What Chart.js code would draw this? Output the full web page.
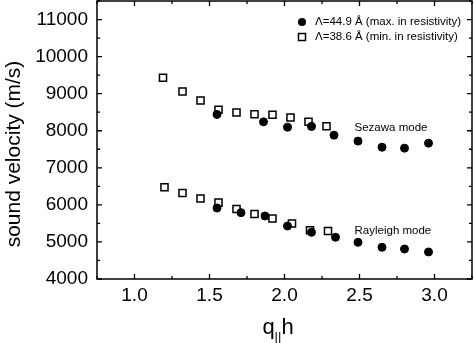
<!DOCTYPE html>
<html>
<head>
<meta charset="utf-8">
<script src="https://cdn.jsdelivr.net/npm/chart.js@4"></script>
<style>
  html, body { margin: 0; padding: 0; background: #fff; }
  canvas { display: block; }
</style>
</head>
<body>
<canvas id="chartVelocidad" width="474" height="343"></canvas>
<script>
// Λ=44.9 Å (max. in resistivity), filled circles
const maxSezawaQ = [1.55, 1.86, 2.02, 2.18, 2.33, 2.49, 2.65, 2.80, 2.96];
const maxSezawaV = [8440, 8240, 8095, 8115, 7880, 7720, 7555, 7530, 7665];
const maxRayleighQ = [1.55, 1.71, 1.87, 2.02, 2.18, 2.34, 2.49, 2.65, 2.80, 2.96];
const maxRayleighV = [5915, 5790, 5700, 5430, 5260, 5125, 4990, 4855, 4810, 4730];

// Λ=38.6 Å (min. in resistivity), open squares
const minSezawaQ = [1.19, 1.32, 1.44, 1.56, 1.68, 1.80, 1.92, 2.04, 2.16, 2.28];
const minSezawaV = [9430, 9060, 8815, 8565, 8490, 8445, 8430, 8355, 8240, 8120];
const minRayleighQ = [1.20, 1.32, 1.44, 1.56, 1.68, 1.80, 1.92, 2.05, 2.17, 2.29];
const minRayleighV = [6475, 6320, 6170, 6060, 5890, 5755, 5630, 5495, 5315, 5295];

const xTicks = [1.0, 1.5, 2.0, 2.5, 3.0];
const yTicks = [4000, 5000, 6000, 7000, 8000, 9000, 10000, 11000];
const serieLabels = ["\u039B=44.9 \u00C5 (max. in resistivity)", "\u039B=38.6 \u00C5 (min. in resistivity)"];
const modos = [
  { text: "Sezawa mode", q: 2.467, v: 8000 },
  { text: "Rayleigh mode", q: 2.467, v: 5215 }
];

const puntos = (qs, vs) => qs.map((q, i) => ({ x: q, y: vs[i] }));
const FONT = "'Liberation Sans', Arial, sans-serif";

// marco, ticks hacia dentro, leyenda, etiquetas y títulos
const marcoPlugin = {
  id: "marco",
  afterDraw(chart) {
    const { ctx, chartArea: a, scales: { x, y } } = chart;
    ctx.save();
    ctx.strokeStyle = "#000";
    ctx.lineWidth = 1.5;
    ctx.strokeRect(a.left, a.top, a.right - a.left, a.bottom - a.top);

    ctx.lineWidth = 1.3;
    ctx.beginPath();
    for (let v = 0.75; v <= 3.25; v += 0.25) {
      const px = x.getPixelForValue(v);
      const len = Math.abs(v * 2 - Math.round(v * 2)) < 1e-6 ? 5 : 3;
      ctx.moveTo(px, a.bottom); ctx.lineTo(px, a.bottom - len);
      ctx.moveTo(px, a.top); ctx.lineTo(px, a.top + len);
    }
    for (let v = 4000; v <= 11500; v += 500) {
      const py = y.getPixelForValue(v);
      const len = v % 1000 === 0 ? 5 : 3;
      ctx.moveTo(a.left, py); ctx.lineTo(a.left + len, py);
      ctx.moveTo(a.right, py); ctx.lineTo(a.right - len, py);
    }
    ctx.stroke();

    // leyenda
    ctx.fillStyle = "#000";
    ctx.beginPath();
    ctx.arc(302, 22, 4, 0, Math.PI * 2);
    ctx.fill();
    ctx.lineWidth = 1.5;
    ctx.fillStyle = "#fff";
    ctx.fillRect(298.5, 33.5, 7, 7);
    ctx.strokeRect(298.5, 33.5, 7, 7);
    ctx.fillStyle = "#000";
    ctx.font = "11.5px " + FONT;
    ctx.textBaseline = "middle";
    ctx.textAlign = "left";
    ctx.fillText(serieLabels[0], 315, 22);
    ctx.fillText(serieLabels[1], 315, 37);

    // nombres de los modos
    ctx.textBaseline = "alphabetic";
    modos.forEach(m => {
      ctx.fillText(m.text, x.getPixelForValue(m.q), y.getPixelForValue(m.v));
    });

    // título eje y
    ctx.save();
    ctx.translate(20, 154);
    ctx.rotate(-Math.PI / 2);
    ctx.font = "21px " + FONT;
    ctx.textAlign = "center";
    ctx.fillText("sound velocity (m/s)", 0, 0);
    ctx.restore();

    // título eje x: q con subíndice ||
    ctx.font = "22px " + FONT;
    const wq = ctx.measureText("q").width;
    ctx.font = "13px " + FONT;
    const ws = ctx.measureText("||").width;
    ctx.font = "22px " + FONT;
    const wh = ctx.measureText("h").width;
    let cx = 278 - (wq + ws + wh) / 2;
    ctx.fillText("q", cx, 334);
    cx += wq;
    ctx.font = "13px " + FONT;
    ctx.fillText("||", cx, 341);
    cx += ws;
    ctx.font = "22px " + FONT;
    ctx.fillText("h", cx, 334);
    ctx.restore();
  }
};

const chart = new Chart(document.getElementById("chartVelocidad"), {
  type: "scatter",
  data: {
    datasets: [
      {
        label: serieLabels[0],
        data: puntos(maxSezawaQ, maxSezawaV).concat(puntos(maxRayleighQ, maxRayleighV)),
        pointStyle: "circle",
        pointRadius: 4,
        backgroundColor: "#000",
        borderColor: "#000",
        borderWidth: 1
      },
      {
        label: serieLabels[1],
        data: puntos(minSezawaQ, minSezawaV).concat(puntos(minRayleighQ, minRayleighV)),
        pointStyle: "rect",
        pointRadius: 5,
        backgroundColor: "#fff",
        borderColor: "#000",
        borderWidth: 1.5
      }
    ]
  },
  options: {
    responsive: false,
    animation: false,
    layout: { autoPadding: false, padding: { top: 1, right: 2, left: 0, bottom: 0 } },
    plugins: {
      legend: { display: false },
      tooltip: { enabled: false }
    },
    scales: {
      x: {
        type: "linear",
        min: 0.75,
        max: 3.25,
        afterBuildTicks: s => { s.ticks = xTicks.map(v => ({ value: v })); },
        afterFit: s => {
          s.height = 64;
          s.paddingLeft = 0;
          s.paddingRight = 0;
        },
        grid: { display: false, drawTicks: false },
        border: { display: false },
        ticks: {
          color: "#000",
          padding: 5,
          font: { family: FONT, size: 19 },
          maxRotation: 0,
          callback: v => Number(v).toFixed(1)
        }
      },
      y: {
        type: "linear",
        min: 4000,
        max: 11500,
        afterBuildTicks: s => { s.ticks = yTicks.map(v => ({ value: v })); },
        afterFit: s => {
          s.width = 97;
          s.paddingTop = 0;
          s.paddingBottom = 0;
        },
        grid: { display: false, drawTicks: false },
        border: { display: false },
        ticks: {
          color: "#000",
          padding: 9,
          font: { family: FONT, size: 19 },
          callback: v => String(v)
        }
      }
    }
  },
  plugins: [marcoPlugin]
});
</script>
</body>
</html>
